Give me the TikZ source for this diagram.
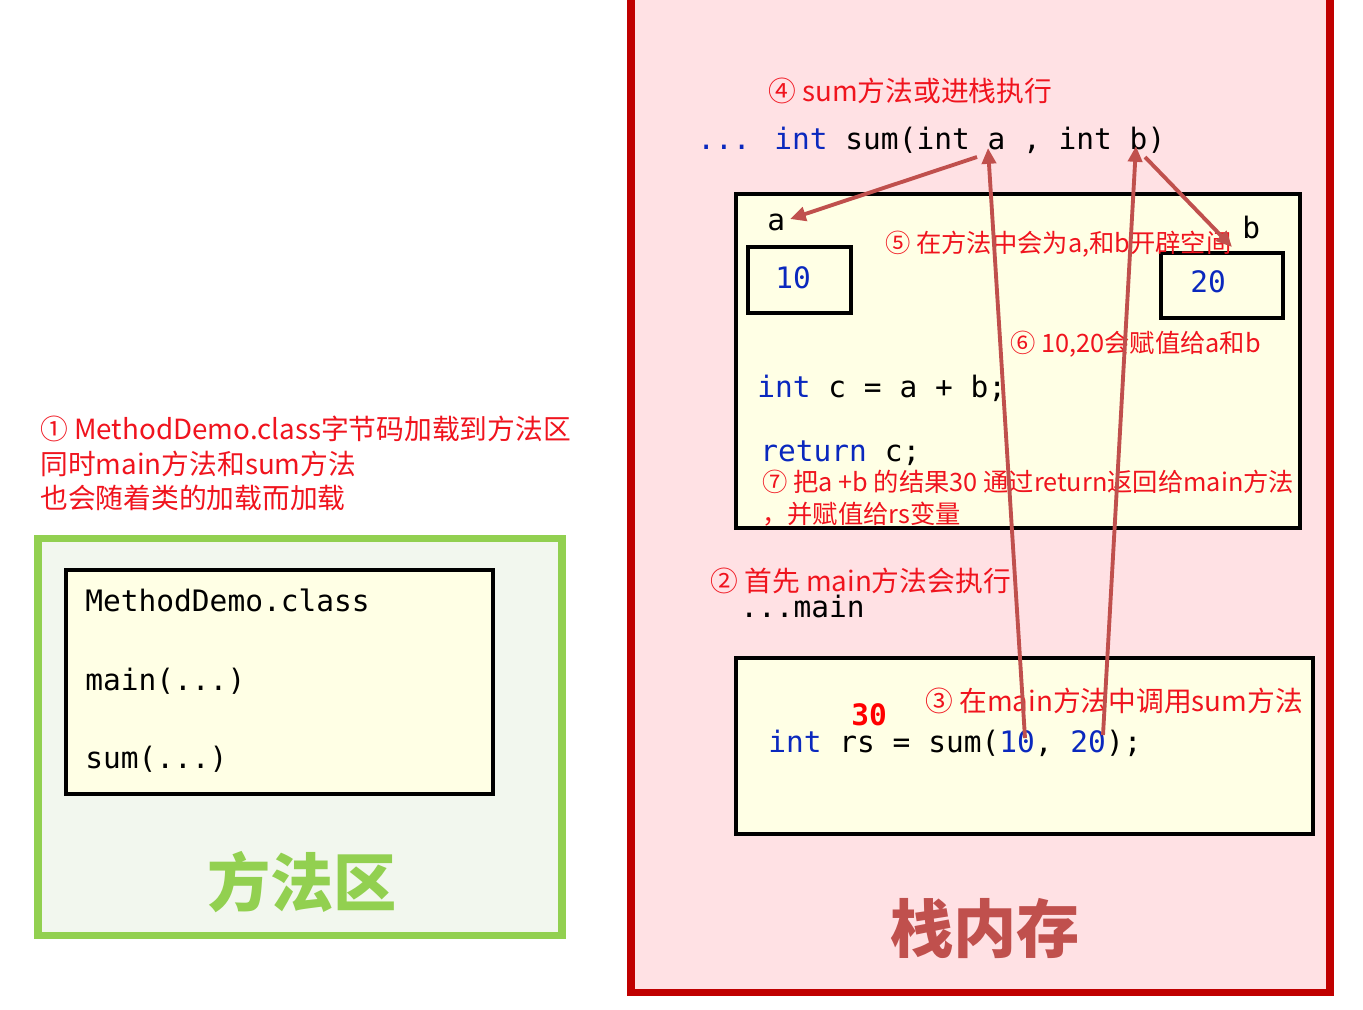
\documentclass[tikz,border=0pt]{standalone}
\usepackage{fontspec}
\newfontfamily\cjk{Noto Sans CJK SC}
\newfontfamily\code{DejaVu Sans Mono}
\usetikzlibrary{arrows.meta}
\definecolor{stackred}{RGB}{192,0,0}
\definecolor{stackfill}{RGB}{255,225,228}
\definecolor{areagreen}{RGB}{146,208,80}
\definecolor{areafill}{RGB}{242,247,238}
\definecolor{framefill}{RGB}{255,255,229}
\definecolor{notered}{RGB}{240,20,30}
\definecolor{arrowred}{RGB}{192,80,77}
\definecolor{kwblue}{RGB}{10,40,190}
\begin{document}
\begin{tikzpicture}[x=0.02cm,y=-0.02cm,
	note/.style={anchor=base west,inner sep=0pt,text=notered,font=\cjk\fontsize{15.8}{19}\selectfont},
	smallnote/.style={note,font=\cjk\fontsize{14.4}{17}\selectfont},
	codetext/.style={anchor=base west,inner sep=0pt,font=\code\fontsize{16.8}{20}\selectfont},
	framebox/.style={draw=black,line width=1.9pt,fill=framefill},
	flow/.style={arrowred,line width=2.2pt,-{Triangle[length=9pt,width=8pt]}}]
	\useasboundingbox (0,0) rectangle (1363,1009);
	\fill[white] (0,0) rectangle (1363,1009);
	% method area
	\draw[areagreen,line width=4pt,fill=areafill] (38,538) rectangle (562,935);
	\draw[framebox] (66,570) rectangle (493,794);
	\node[codetext] (classname) at (85,611) {MethodDemo.class};
	\node[codetext] (mainsig) at (85,690) {main(...)};
	\node[codetext] (sumsig) at (85,768) {sum(...)};
	\node[text=areagreen,font=\cjk\bfseries\fontsize{36}{40}\selectfont] (areatitle) at (302,882) {方法区};
	\node[note] (stepone) at (40,439) {① MethodDemo.class字节码加载到方法区};
	\node[note] (steponeb) at (40,474) {同时main方法和sum方法};
	\node[note] (steponec) at (40,508) {也会随着类的加载而加载};
	% stack
	\draw[stackred,line width=4pt,fill=stackfill] (631,-30) rectangle (1330,992);
	\node[text=arrowred,font=\cjk\bfseries\fontsize{36}{40}\selectfont] (stacktitle) at (985,928) {栈内存};
	\node[note] (stepfour) at (768,101) {④ sum方法或进栈执行};
	\node[codetext] (sumhead) at (697,149) {{\color{kwblue}... int} sum(int a , int b)};
	% sum frame
	\draw[framebox] (736,194) rectangle (1300,528);
	\node[codetext] (vara) at (767,230) {a};
	\node[codetext] (varb) at (1242,238) {b};
	\draw[framebox] (748,247) rectangle (851,313);
	\draw[framebox] (1161,253) rectangle (1283,318);
	\node[codetext,text=kwblue] (vala) at (775,288) {10};
	\node[codetext,text=kwblue] (valb) at (1190,292) {20};
	\node[smallnote] (stepfive) at (885,252) {⑤ 在方法中会为a,和b开辟空间};
	\node[smallnote] (stepsix) at (1010,352) {⑥ 10,20会赋值给a和b};
	\node[codetext] (addline) at (757,397) {{\color{kwblue}int} c = a + b;};
	\node[codetext] (retline) at (760,461) {{\color{kwblue}return} c;};
	\node[smallnote] (stepseven) at (762,491) {⑦ 把a +b 的结果30 通过return返回给main方法};
	\node[smallnote] (stepsevenb) at (762,523) {，并赋值给rs变量};
	\node[note] (steptwo) at (710,591) {② 首先 main方法会执行};
	\node[codetext] (mainhead) at (740,617) {...main};
	% main frame
	\draw[framebox] (736,658) rectangle (1313,834);
	\node[codetext,text=red,font=\code\bfseries\fontsize{16.8}{20}\selectfont] (result) at (851,725) {30};
	\node[note] (stepthree) at (925,711) {③ 在main方法中调用sum方法};
	\node[codetext] (callline) at (768,752) {{\color{kwblue}int} rs = sum({\color{kwblue}10}, {\color{kwblue}20});};
	% arrows
	\coordinate (siga) at (977,157);
	\coordinate (sigatip) at (988,148);
	\coordinate (sigb) at (1145,157);
	\coordinate (sigbtip) at (1136,146);
	\coordinate (labela) at (790,219);
	\coordinate (labelb) at (1232,247);
	\coordinate (argten) at (1025,738);
	\coordinate (argtwenty) at (1103,735);
	\draw[flow] (siga) -- (labela);
	\draw[flow] (sigb) -- (labelb);
	\draw[flow] (argten) -- (sigatip);
	\draw[flow] (argtwenty) -- (sigbtip);
\end{tikzpicture}
\end{document}
